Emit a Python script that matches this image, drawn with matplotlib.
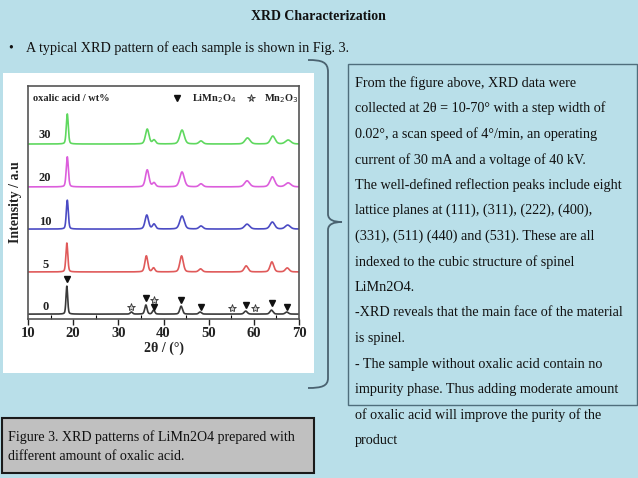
import numpy as np
import matplotlib
matplotlib.use("Agg")
import matplotlib.pyplot as plt
from matplotlib.patches import Rectangle, PathPatch
from matplotlib.path import Path

# ---------------- data ----------------
samples = ["0", "5", "10", "20", "30"]
colors = ["#3a3a3a", "#e05a5a", "#4b4bc4", "#dc5edc", "#5fd85f"]
baselines = [2.1, 20.2, 38.6, 56.7, 75.1]
label_y = [5.2, 23.2, 41.6, 60.5, 79.0]

# peak tables: position (2theta), height (a.u.), half width
peaks_0 = [(18.6, 12.0, 0.22), (32.9, 0.9, 0.3), (36.1, 3.9, 0.3), (37.8, 1.7, 0.3),
           (43.9, 3.4, 0.35), (48.1, 0.9, 0.35), (58.2, 1.3, 0.4), (63.9, 1.7, 0.4),
           (67.3, 0.9, 0.4)]
peaks_5 = [(18.6, 12.4, 0.25), (36.2, 6.9, 0.38), (37.8, 1.7, 0.35), (44.0, 6.9, 0.45),
           (48.2, 1.3, 0.45), (58.3, 2.6, 0.5), (64.0, 4.3, 0.48), (67.4, 1.7, 0.5)]
peaks_10 = [(18.7, 12.4, 0.26), (36.3, 6.0, 0.45), (37.9, 2.1, 0.4), (44.1, 5.6, 0.58),
            (48.3, 1.3, 0.5), (58.5, 2.1, 0.65), (64.1, 3.0, 0.6), (67.5, 1.7, 0.65)]
peaks_20 = [(18.7, 12.9, 0.28), (36.4, 7.3, 0.46), (37.9, 1.7, 0.4), (44.1, 6.4, 0.58),
            (48.3, 1.3, 0.5), (58.5, 2.6, 0.65), (64.1, 4.3, 0.62), (67.6, 1.7, 0.7)]
peaks_30 = [(18.7, 12.9, 0.26), (36.4, 6.4, 0.46), (37.9, 1.7, 0.4), (44.1, 6.0, 0.58),
            (48.3, 1.3, 0.5), (58.6, 2.6, 0.65), (64.2, 3.4, 0.6), (67.6, 1.7, 0.7)]
peak_tables = [peaks_0, peaks_5, peaks_10, peaks_20, peaks_30]

limn_x = [18.6, 36.1, 37.8, 43.9, 48.2, 58.2, 64.0, 67.4]
limn_y = [17.2, 9.0, 5.2, 8.2, 5.2, 6.0, 6.9, 5.2]
mn2o3_x = [32.9, 37.9, 55.2, 60.2]
mn2o3_y = [5.2, 8.2, 4.7, 4.7]

xticks = [10, 20, 30, 40, 50, 60, 70]

text_lines = [
    "From the figure above, XRD data were",
    "collected at 2\u03b8 = 10-70\u00b0 with a step width of",
    "0.02\u00b0, a scan speed of 4\u00b0/min, an operating",
    "current of 30 mA and a voltage of 40 kV.",
    "The well-defined reflection peaks include eight",
    "lattice planes at (111), (311), (222), (400),",
    "(331), (511) (440) and (531). These are all",
    "indexed to the cubic structure of spinel",
    "LiMn2O4.",
    "-XRD reveals that the main face of the material",
    "is spinel.",
    "- The sample without oxalic acid contain no",
    "impurity phase. Thus adding moderate amount",
    "of oxalic acid will improve the purity of the",
    "product",
]
caption_lines = ["Figure 3. XRD patterns of LiMn2O4 prepared with",
                 "different amount of oxalic acid."]

# ---------------- figure ----------------
W, H = 638, 478
BG = "#b9dfe9"
SERIF = ["Liberation Serif", "DejaVu Serif"]
plt.rcParams["font.family"] = SERIF

fig = plt.figure(figsize=(W / 100, H / 100), dpi=100, facecolor=BG)


def fx(px):
    return px / W


def fy(py):
    return 1 - py / H


# white picture background
fig.add_artist(Rectangle((fx(3), fy(373)), fx(311), 300 / H, transform=fig.transFigure,
                         facecolor="white", edgecolor="none", zorder=0))

ax = fig.add_axes([fx(28), fy(319), fx(299 - 28), (319 - 86) / H])
ax.set_facecolor("white")

x = np.arange(10, 70.001, 0.02)
for name, col, base, table, ly in zip(samples, colors, baselines, peak_tables, label_y):
    y = np.full_like(x, base)
    for p, h, w in table:
        g = np.exp(-np.log(2) * ((x - p) / w) ** 2)
        lo = 1 / (1 + ((x - p) / w) ** 2)
        y += h * (0.7 * g + 0.3 * lo)
    ax.plot(x, y, color=col, lw=1.2)
    ax.text(13.8, ly, name, fontsize=9, fontweight="bold", ha="center", va="center",
            color="#222")

ax.plot(limn_x, limn_y, ls="none", marker="v", ms=5, color="#111")
ax.plot(mn2o3_x, mn2o3_y, ls="none", marker="*", ms=6, mfc="#cccccc", mec="#333", mew=0.6)

ax.text(11.1, 94.8, "oxalic acid / wt%", fontsize=7.5, fontweight="bold", va="center",
        color="#222")
ax.plot([43.0], [95.0], ls="none", marker="v", ms=4.5, color="#111")
ax.text(46.2, 94.8, "LiMn$_2$O$_4$", fontsize=7.5, fontweight="bold", va="center", color="#222")
ax.plot([59.3], [95.0], ls="none", marker="*", ms=5.5, mfc="#cccccc", mec="#333", mew=0.6)
ax.text(62.2, 94.8, "Mn$_2$O$_3$", fontsize=7.5, fontweight="bold", va="center", color="#222")

ax.set_xlim(10, 70)
ax.set_ylim(0, 100)
ax.set_xticks(xticks)
ax.set_xticklabels([str(t) for t in xticks], fontsize=10.5, fontweight="bold")
ax.set_xticks(np.arange(15, 70, 10), minor=True)
ax.tick_params(axis="x", which="major", direction="out", length=4, width=1, pad=2, colors="#222")
ax.tick_params(axis="x", which="minor", direction="in", length=3, width=0.8)
ax.set_yticks([])
for s in ax.spines.values():
    s.set_color("#555")
    s.set_linewidth(1.2)
ax.set_xlabel("2\u03b8 / (\u00b0)", fontsize=10, fontweight="bold", labelpad=1, color="#222")
ax.set_ylabel("Intensity / a.u", fontsize=10, fontweight="bold", labelpad=4, color="#222")

# ---------------- slide texts ----------------
fig.text(fx(318), fy(17), "XRD Characterization", fontsize=10, fontweight="bold",
         ha="center", va="center", color="#111")
fig.text(fx(8), fy(48), "\u2022", fontsize=10, ha="left", va="center", color="#111")
fig.text(fx(26), fy(48), "A typical XRD pattern of each sample is shown in Fig. 3.",
         fontsize=10.2, ha="left", va="center", color="#111")

# right text box
fig.add_artist(Rectangle((fx(348), fy(405)), fx(637 - 348), (405 - 64) / H,
                         transform=fig.transFigure, facecolor="none", edgecolor="#4f6e7c",
                         lw=1.0))
for i, line in enumerate(text_lines):
    fig.text(fx(355), fy(83 + 25.55 * i), line, fontsize=10.2, ha="left", va="center",
             color="#111")

# brace
pts = [(308, 60), (322, 60), (328, 62), (328, 72),
       (328, 214),
       (328, 220), (334, 222), (342, 222),
       (334, 222), (328, 224), (328, 230),
       (328, 378),
       (328, 386), (322, 388), (308, 388)]
codes = [Path.MOVETO, Path.CURVE4, Path.CURVE4, Path.CURVE4,
         Path.LINETO,
         Path.CURVE4, Path.CURVE4, Path.CURVE4,
         Path.CURVE4, Path.CURVE4, Path.CURVE4,
         Path.LINETO,
         Path.CURVE4, Path.CURVE4, Path.CURVE4]
path = Path([(fx(a), fy(b)) for a, b in pts], codes)
fig.add_artist(PathPatch(path, transform=fig.transFigure, facecolor="none",
                         edgecolor="#4a6270", lw=1.3))

# caption box
fig.add_artist(Rectangle((fx(2), fy(473)), fx(312), (473 - 418) / H, transform=fig.transFigure,
                         facecolor="#c0c0c0", edgecolor="#1a1a1a", lw=1.5))
for i, line in enumerate(caption_lines):
    fig.text(fx(8), fy(437 + 19 * i), line, fontsize=10.1, ha="left", va="center", color="#111")

fig.savefig("out.png", dpi=100, facecolor=BG)
